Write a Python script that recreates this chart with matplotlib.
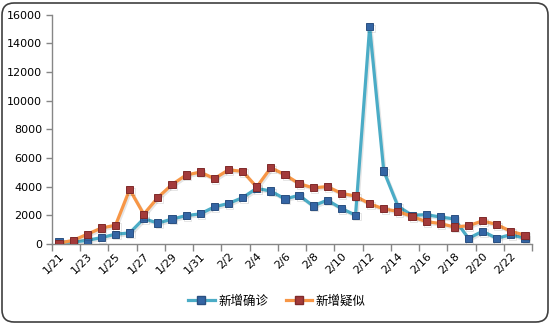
import matplotlib
matplotlib.use("Agg")
import matplotlib.pyplot as plt
import matplotlib.patheffects as pe
from matplotlib.patches import FancyBboxPatch
from matplotlib.lines import Line2D

dates = ["1/21", "1/22", "1/23", "1/24", "1/25", "1/26", "1/27", "1/28", "1/29", "1/30",
         "1/31", "2/1", "2/2", "2/3", "2/4", "2/5", "2/6", "2/7", "2/8", "2/9",
         "2/10", "2/11", "2/12", "2/13", "2/14", "2/15", "2/16", "2/17", "2/18", "2/19",
         "2/20", "2/21", "2/22", "2/23"]
confirmed = [149, 131, 259, 444, 688, 769, 1771, 1459, 1737, 1982,
             2102, 2590, 2829, 3235, 3887, 3694, 3143, 3399, 2656, 3062,
             2478, 2015, 15152, 5090, 2641, 2009, 2048, 1886, 1749, 394,
             889, 397, 648, 409]
suspected = [60, 257, 680, 1118, 1309, 3806, 2077, 3248, 4148, 4812,
             5019, 4562, 5173, 5072, 3971, 5328, 4833, 4214, 3916, 4008,
             3536, 3342, 2807, 2450, 2277, 1918, 1563, 1432, 1185, 1277,
             1614, 1361, 882, 620]
series_names = ["新增确诊", "新增疑似"]
yticks = [0, 2000, 4000, 6000, 8000, 10000, 12000, 14000, 16000]

plt.rcParams['font.family'] = ['DejaVu Sans']

fig = plt.figure(figsize=(5.51, 3.24), dpi=100)
ax = fig.add_axes([52/551, 1-244/324, (532-52)/551, (244-14.7)/324])

x = list(range(len(dates)))
shadow = [pe.SimpleLineShadow(offset=(1.0, -1.2), alpha=0.1, shadow_color='black'), pe.Normal()]

ax.plot(x, confirmed, color='#4BACC6', lw=2.3, marker='s', ms=5.2,
        mfc='#3465A4', mec='#2A4F80', mew=0.7, path_effects=shadow, zorder=3)
ax.plot(x, suspected, color='#F79646', lw=2.3, marker='s', ms=5.2,
        mfc='#A33A3A', mec='#7F2A2A', mew=0.7, path_effects=shadow, zorder=4)

ax.set_xlim(-0.5, len(dates) - 0.5)
ax.set_ylim(0, 16000)
ax.set_yticks(yticks)
ax.set_yticklabels([str(v) for v in yticks], fontsize=8, color='black')

ax.set_xticks(x[::2])
ax.set_xticklabels(dates[::2], rotation=45, ha='right', va='top',
                   rotation_mode='anchor', fontsize=8, color='black')
ax.tick_params(axis='x', which='major', length=0, pad=5)
ax.set_xticks([i - 0.5 for i in range(0, len(dates) + 1, 2)], minor=True)
ax.tick_params(axis='x', which='minor', length=5, color='#868686', width=1)
ax.tick_params(axis='y', length=4, color='#868686', width=1, pad=3)

for s in ['top', 'right']:
    ax.spines[s].set_visible(False)
for s in ['left', 'bottom']:
    ax.spines[s].set_color('#868686')
    ax.spines[s].set_linewidth(1)

handles = [
    Line2D([], [], color='#4BACC6', lw=2.3, marker='s', ms=5.2, mfc='#3465A4', mec='#2A4F80'),
    Line2D([], [], color='#F79646', lw=2.3, marker='s', ms=5.2, mfc='#A33A3A', mec='#7F2A2A'),
]
fig.legend(handles, series_names, loc='center', bbox_to_anchor=(277/551, 1-301/324),
           ncol=2, frameon=False, prop={'family': ['Noto Sans CJK SC', 'DejaVu Sans'], 'size': 9},
           handlelength=2.1, handletextpad=0.3, columnspacing=1.4)

border = FancyBboxPatch((2/551, 2/324), 546/551, 319/324,
                        boxstyle="round,pad=0,rounding_size=0.022",
                        transform=fig.transFigure, fill=False, edgecolor='#404040',
                        lw=1.2, mutation_aspect=551/324)
fig.patches.append(border)

fig.savefig("out.png", dpi=100)
